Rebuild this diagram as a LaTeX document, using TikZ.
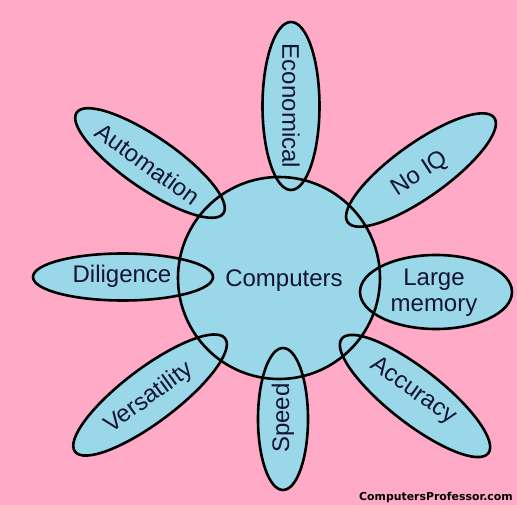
\documentclass[tikz,border=0pt]{standalone}
\usepackage{fontspec}
\setmainfont{Liberation Sans}
\newfontfamily\wmfont{DejaVu Sans}
\definecolor{bgpink}{RGB}{255,170,198}
\definecolor{petalblue}{RGB}{153,215,233}
\definecolor{inkblue}{RGB}{20,20,50}
\tikzset{
  petalfill/.style={fill=petalblue},
  petalline/.style={draw=black, line width=2.6pt},
  lbl/.style={inner sep=0pt, text=inkblue, font=\fontsize{24}{26}\selectfont, align=center},
}
\begin{document}
\begin{tikzpicture}[x=1pt,y=-1pt]
\useasboundingbox (0,0) rectangle (517,505);
\fill[bgpink] (0,0) rectangle (517,505);
% centres
\coordinate (core) at (279,278);
\coordinate (eco) at (291,106);
\coordinate (auto) at (150,163);
\coordinate (noiq) at (421,170);
\coordinate (dili) at (123,277);
\coordinate (large) at (436,292);
\coordinate (vers) at (150,395);
\coordinate (speed) at (283,419);
\coordinate (accu) at (415,396);
% fills
\fill[petalfill] (core) circle (101pt);
\fill[petalfill] (eco) ellipse [x radius=28.5pt, y radius=84pt];
\fill[petalfill, rotate around={-34.5:(auto)}] (auto) ellipse [x radius=89pt, y radius=26pt];
\fill[petalfill, rotate around={35.5:(noiq)}] (noiq) ellipse [x radius=90pt, y radius=27pt];
\fill[petalfill] (dili) ellipse [x radius=90pt, y radius=23.5pt];
\fill[petalfill] (large) ellipse [x radius=76pt, y radius=37pt];
\fill[petalfill, rotate around={37:(vers)}] (vers) ellipse [x radius=94pt, y radius=27pt];
\fill[petalfill] (speed) ellipse [x radius=25pt, y radius=71pt];
\fill[petalfill, rotate around={-38:(accu)}] (accu) ellipse [x radius=93pt, y radius=27pt];
% outlines
\draw[petalline] (core) circle (101pt);
\draw[petalline] (eco) ellipse [x radius=28.5pt, y radius=84pt];
\draw[petalline, rotate around={-34.5:(auto)}] (auto) ellipse [x radius=89pt, y radius=26pt];
\draw[petalline, rotate around={35.5:(noiq)}] (noiq) ellipse [x radius=90pt, y radius=27pt];
\draw[petalline] (dili) ellipse [x radius=90pt, y radius=23.5pt];
\draw[petalline] (large) ellipse [x radius=76pt, y radius=37pt];
\draw[petalline, rotate around={37:(vers)}] (vers) ellipse [x radius=94pt, y radius=27pt];
\draw[petalline] (speed) ellipse [x radius=25pt, y radius=71pt];
\draw[petalline, rotate around={-38:(accu)}] (accu) ellipse [x radius=93pt, y radius=27pt];
% labels
\node[lbl] (coreT) at (284,281) {Computers};
\node[lbl, rotate=-90] (ecoT) at (291,106) {Economical};
\node[lbl, rotate=-36] (autoT) at (148,164) {Automation};
\node[lbl, rotate=33] (noiqT) at (420,174) {No IQ};
\node[lbl] (diliT) at (122,276) {Diligence};
\node[lbl] (largeT) at (434,293) {Large\\memory};
\node[lbl, rotate=36] (versT) at (149,398) {Versatility};
\node[lbl, rotate=90] (speedT) at (283,418) {Speed};
\node[lbl, rotate=-35] (accuT) at (413,391) {Accuracy};
\node[anchor=base east, inner sep=0pt, font=\wmfont\bfseries\fontsize{10.9}{12}\selectfont, text=black] (wm) at (513,500) {ComputersProfessor.com};
\end{tikzpicture}
\end{document}
